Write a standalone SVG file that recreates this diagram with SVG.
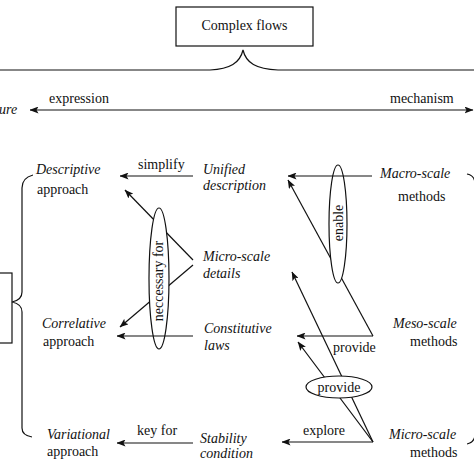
<svg xmlns="http://www.w3.org/2000/svg" width="474" height="474" viewBox="0 0 474 474">
<style>
text{font-family:'Liberation Serif','Times New Roman','DejaVu Serif',serif;font-size:14px;fill:#111}
.i{font-style:italic}
.ln{stroke:#111;stroke-width:1.2;fill:none}
.ar{stroke:#111;stroke-width:1.2;fill:none;marker-end:url(#ah)}
.el{stroke:#111;stroke-width:1.2;fill:#fff}
</style>
<defs>
<marker id="ah" markerUnits="userSpaceOnUse" markerWidth="9" markerHeight="7" refX="8.5" refY="3.5" orient="auto-start-reverse">
<path d="M0,0 L9,3.5 L0,7 L2,3.5 z" fill="#111"/>
</marker>
</defs>
<rect width="474" height="474" fill="#fff"/>
<g font-family="Liberation Serif, Times New Roman, DejaVu Serif, serif">

<g id="complex-flows">
<rect x="176" y="7" width="137" height="39" fill="#fff" stroke="#111" stroke-width="1.2"/>
<text x="244.5" y="30" text-anchor="middle">Complex flows</text>
</g>

<g id="braces">
<path class="ln" d="M0,70 H210 C230,69 240,63 243,50 C246,63 256,69 278,70 H474"/>
<path class="ln" d="M33,175 C25,177 22,181 22,188 V292 C22,298 17,301 12,302 C17,303 22,306 22,312 V428 C22,433 26,436 32,437"/>
<path class="ln" d="M467,174 C472,175 475,178 475,184 V434 C475,440 472,443 467,444"/>
<rect x="-2" y="273" width="14" height="70" fill="none" stroke="#111" stroke-width="1.2"/>
</g>

<g id="axis">
<text class="i" x="-1" y="114">ure</text>
<text x="49" y="103">expression</text>
<text x="390" y="103">mechanism</text>
</g>

<g id="connectors">
<line x1="30" y1="110" x2="473" y2="110" class="ln" marker-start="url(#ah)" marker-end="url(#ah)"/>
<line class="ar" x1="193" y1="260" x2="125" y2="190"/>
<line class="ar" x1="193" y1="265" x2="120" y2="327"/>
<line class="ar" x1="373" y1="336" x2="288" y2="180"/>
<line class="ar" x1="373" y1="442" x2="298" y2="342"/>
<line class="ar" x1="373" y1="442" x2="292" y2="272"/>
<ellipse id="necessary-for" class="el" cx="159" cy="278.5" rx="10" ry="70.5"/>
<ellipse id="enable" class="el" cx="338" cy="224" rx="9" ry="59"/>
<ellipse id="provide-ellipse" class="el" cx="339" cy="387" rx="33" ry="11"/>
<line class="ar" x1="193" y1="176" x2="120" y2="176"/>
<line class="ar" x1="193" y1="336" x2="117" y2="336"/>
<line class="ar" x1="193" y1="443" x2="117" y2="443"/>
<line class="ar" x1="372" y1="176" x2="288" y2="176"/>
<line class="ar" x1="373" y1="336" x2="297" y2="336"/>
<line class="ar" x1="373" y1="442" x2="282" y2="442"/>
<text x="138" y="169">simplify</text>
<text x="137" y="435">key for</text>
<text x="333" y="352">provide</text>
<text x="303" y="435">explore</text>
<text x="339" y="392" text-anchor="middle">provide</text>
<text transform="translate(162.5,281) rotate(-90)" text-anchor="middle">neccessary for</text>
<text transform="translate(342.5,223) rotate(-90)" text-anchor="middle">enable</text>
</g>

<g id="descriptive">
<text class="i" x="36" y="174">Descriptive</text>
<text x="37" y="194">approach</text>
</g>
<g id="correlative">
<text class="i" x="42" y="328">Correlative</text>
<text x="43" y="346">approach</text>
</g>
<g id="variational">
<text class="i" x="47" y="439">Variational</text>
<text x="47" y="456">approach</text>
</g>

<g id="unified">
<text class="i" x="203" y="174">Unified</text>
<text class="i" x="203" y="190">description</text>
</g>
<g id="micro-details">
<text class="i" x="203" y="261">Micro-scale</text>
<text class="i" x="203" y="278">details</text>
</g>
<g id="constitutive">
<text class="i" x="204" y="333">Constitutive</text>
<text class="i" x="204" y="350">laws</text>
</g>
<g id="stability">
<text class="i" x="200" y="443">Stability</text>
<text class="i" x="200" y="458">condition</text>
</g>

<g id="macro">
<text class="i" x="380" y="178">Macro-scale</text>
<text x="398" y="201">methods</text>
</g>
<g id="meso">
<text class="i" x="393" y="328">Meso-scale</text>
<text x="410" y="346">methods</text>
</g>
<g id="micro-methods">
<text class="i" x="389" y="439">Micro-scale</text>
<text x="410" y="457">methods</text>
</g>
</g>
</svg>
